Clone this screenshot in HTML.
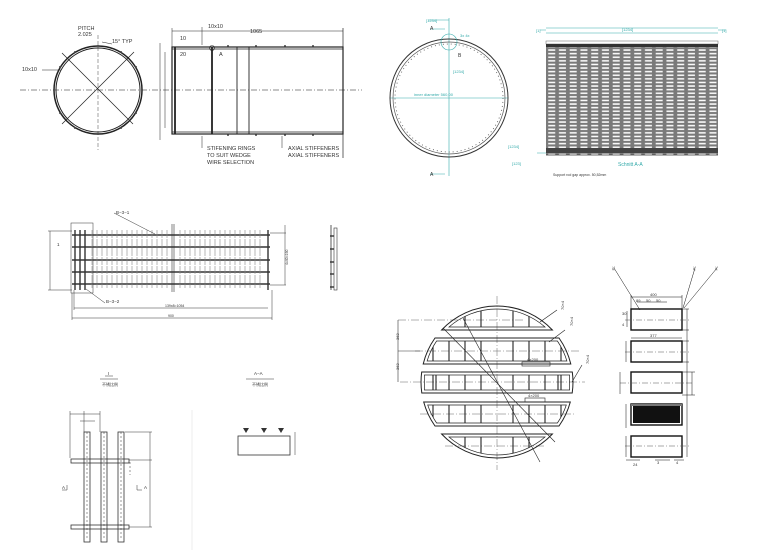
<!DOCTYPE html>
<html><head><meta charset="utf-8"><style>
html,body{margin:0;padding:0;background:#fff}
svg{display:block}
text{font-family:"Liberation Sans",sans-serif;fill:#333}
.t{fill:#3aa}
</style></head><body>
<svg width="770" height="553" viewBox="0 0 770 553" xmlns="http://www.w3.org/2000/svg">
<defs>
<pattern id="gr" x="546" y="41" width="10.75" height="3.6" patternUnits="userSpaceOnUse">
<rect width="10.75" height="3.6" fill="#7a7a7a"/>
<rect x="2.2" y="1.1" width="7" height="1.5" fill="#fff"/>
</pattern>
<clipPath id="ci">
<path d="M449 327 A73 73 0 0 1 545 327 Z"/>
<path d="M436.6 341 L557.4 341 A73 73 0 0 1 566.9 361 L427.1 361 A73 73 0 0 1 436.6 341 Z"/>
<rect x="424.4" y="375" width="145.2" height="15"/>
<path d="M427.7 405 L566.3 405 A73 73 0 0 1 557.4 423 L436.6 423 A73 73 0 0 1 427.7 405 Z"/>
<path d="M449 437 L545 437 A73 73 0 0 1 449 437 Z"/>
</clipPath>
</defs>

<!-- ===== Top-left drawing ===== -->
<g stroke="#222" fill="none">
<line x1="20" y1="90" x2="362" y2="90" stroke="#666" stroke-width="0.7" stroke-dasharray="6,2,1,2"/>
<line x1="98" y1="35" x2="98" y2="150" stroke="#666" stroke-width="0.6" stroke-dasharray="4,2"/>
<circle cx="98" cy="90" r="44" stroke-width="1.5"/>
<circle cx="98" cy="90" r="42" stroke-width="1"/>
<line x1="62" y1="53" x2="133" y2="124" stroke-width="0.7"/>
<line x1="62" y1="124" x2="134" y2="52" stroke-width="0.7"/>
<line x1="42" y1="70" x2="61" y2="70" stroke-width="0.5"/>
<line x1="102" y1="42" x2="112" y2="44" stroke-width="0.5"/>
<rect x="172" y="47" width="171" height="87" stroke-width="1.2"/>
<line x1="172" y1="49" x2="343" y2="49" stroke-width="0.8"/>
<line x1="172" y1="132" x2="343" y2="132" stroke-width="0.8"/>
<line x1="175" y1="47" x2="175" y2="134" stroke-width="1.8"/>
<line x1="212" y1="47" x2="212" y2="134" stroke-width="1.8"/>
<line x1="237" y1="47" x2="237" y2="134" stroke-width="0.9"/>
<line x1="249" y1="47" x2="249" y2="134" stroke-width="0.9"/>
<line x1="343" y1="28" x2="343" y2="158" stroke-width="0.7"/>
<line x1="172" y1="31" x2="343" y2="31" stroke-width="0.5"/>
<line x1="172" y1="28" x2="172" y2="47" stroke-width="0.5"/>
<line x1="160" y1="43" x2="160" y2="140" stroke-width="0.5"/>
<line x1="165" y1="52" x2="165" y2="128" stroke-width="0.5"/>
<line x1="202" y1="27" x2="202" y2="45" stroke-width="0.5"/>
<line x1="202" y1="136" x2="202" y2="148" stroke-width="0.5"/>
<line x1="282" y1="136" x2="282" y2="148" stroke-width="0.5"/>
<circle cx="212" cy="48" r="2.5" stroke-width="0.6"/>
</g>
<g fill="#444">
<circle cx="98" cy="46" r="1"/><circle cx="98" cy="134" r="1"/><circle cx="54" cy="90" r="1"/><circle cx="142" cy="90" r="1"/>
<circle cx="75" cy="52" r="1"/><circle cx="121" cy="52" r="1"/><circle cx="60" cy="67" r="1"/><circle cx="136" cy="67" r="1"/>
<circle cx="60" cy="113" r="1"/><circle cx="136" cy="113" r="1"/><circle cx="75" cy="128" r="1"/><circle cx="121" cy="128" r="1"/>
<circle cx="256" cy="46" r="1"/><circle cx="285" cy="46" r="1"/><circle cx="313" cy="46" r="1"/><circle cx="228" cy="46" r="1"/>
<circle cx="256" cy="135" r="1"/><circle cx="285" cy="135" r="1"/><circle cx="313" cy="135" r="1"/><circle cx="228" cy="135" r="1"/>
</g>
<g font-size="5.5">
<text x="78" y="30">PITCH</text><text x="78" y="36">2.025</text>
<text x="112" y="43">15° TYP</text>
<text x="22" y="71">10x10</text>
<text x="208" y="28">10x10</text><text x="250" y="33">1065</text>
<text x="180" y="40">10</text><text x="180" y="56">20</text>
<text x="219" y="56">A</text>
<text x="207" y="150">STIFENING RINGS</text><text x="207" y="157">TO SUIT WEDGE</text><text x="207" y="164">WIRE SELECTION</text>
<text x="288" y="150">AXIAL STIFFENERS</text><text x="288" y="157">AXIAL STIFFENERS</text>
</g>

<!-- ===== Top-right drawing ===== -->
<g fill="none">
<line x1="449" y1="18" x2="449" y2="176" stroke="#3aa" stroke-width="0.6"/>
<line x1="390" y1="98" x2="508" y2="98" stroke="#3aa" stroke-width="0.5"/>
<circle cx="449" cy="98" r="59" stroke="#333" stroke-width="1"/>
<circle cx="449" cy="98" r="56" stroke="#555" stroke-width="0.7"/>
<circle cx="449" cy="98" r="54" stroke="#666" stroke-width="0.9" stroke-dasharray="1,3"/>
<circle cx="449" cy="42" r="8" stroke="#3aa" stroke-width="0.6"/>
<line x1="428" y1="20" x2="449" y2="20" stroke="#3aa" stroke-width="0.5"/>
<line x1="430" y1="29" x2="445" y2="29" stroke="#3aa" stroke-width="0.5"/>
<line x1="430" y1="174" x2="445" y2="174" stroke="#3aa" stroke-width="0.5"/>
<line x1="546" y1="28" x2="718" y2="28" stroke="#3aa" stroke-width="0.5"/>
<line x1="546" y1="33" x2="718" y2="33" stroke="#3aa" stroke-width="0.5"/>
<line x1="540" y1="30" x2="546" y2="30" stroke="#3aa" stroke-width="0.5"/>
<line x1="718" y1="30" x2="726" y2="30" stroke="#3aa" stroke-width="0.5"/>
<line x1="537" y1="153" x2="546" y2="153" stroke="#3aa" stroke-width="0.5"/>
</g>
<rect x="546" y="41" width="172" height="3" fill="#fff" stroke="#666" stroke-width="0.5"/>
<rect x="546" y="44" width="172" height="111" fill="url(#gr)"/>
<rect x="546" y="44" width="172" height="3" fill="#333"/>
<rect x="546" y="148" width="172" height="5" fill="#444"/>
<line x1="546" y1="155" x2="718" y2="155" stroke="#333" stroke-width="0.8"/>
<g font-size="4" class="t">
<text x="426" y="22" class="t">[1234]</text><text x="460" y="37" class="t">3x 4x</text>
<text x="453" y="73" class="t">[1234]</text><text x="414" y="96" class="t">inner diameter 560,00</text>
<text x="622" y="31" class="t">[1234]</text><text x="508" y="148" class="t">[1234]</text><text x="512" y="165" class="t">[123]</text>
<text x="536" y="32" class="t">[1]</text><text x="722" y="32" class="t">[1]</text>
</g>
<text x="618" y="166" font-size="5" class="t">Schnitt A-A</text>
<text x="553" y="176" font-size="3.5">Support rod gap approx. 50,52mm</text>
<text x="458" y="57" font-size="5">B</text>
<text x="430" y="30" font-size="5">A</text><text x="430" y="176" font-size="5">A</text>

<!-- ===== Middle-left grate ===== -->
<g stroke="#333" fill="none">
<rect x="71" y="223" width="22" height="70" stroke-width="0.5"/>
<g stroke-width="1.6">
<line x1="72" y1="235" x2="270" y2="235"/><line x1="72" y1="247" x2="270" y2="247"/>
<line x1="72" y1="260" x2="270" y2="260"/><line x1="72" y1="272" x2="270" y2="272"/>
<line x1="72" y1="284" x2="270" y2="284"/>
</g>
<g stroke-width="1.4">
<line x1="75" y1="230" x2="75" y2="290"/><line x1="80" y1="230" x2="80" y2="290"/>
<line x1="85" y1="230" x2="85" y2="290"/><line x1="268" y1="230" x2="268" y2="290"/>
</g>
<g stroke="#888" stroke-width="0.6" stroke-dasharray="8,1">
<line x1="92" y1="230" x2="92" y2="288"/><line x1="97" y1="230" x2="97" y2="288"/><line x1="102" y1="230" x2="102" y2="288"/><line x1="107" y1="230" x2="107" y2="288"/><line x1="112" y1="230" x2="112" y2="288"/><line x1="117" y1="230" x2="117" y2="288"/><line x1="122" y1="230" x2="122" y2="288"/><line x1="127" y1="230" x2="127" y2="288"/><line x1="132" y1="230" x2="132" y2="288"/><line x1="137" y1="230" x2="137" y2="288"/><line x1="142" y1="230" x2="142" y2="288"/><line x1="147" y1="230" x2="147" y2="288"/><line x1="152" y1="230" x2="152" y2="288"/><line x1="157" y1="230" x2="157" y2="288"/><line x1="162" y1="230" x2="162" y2="288"/><line x1="167" y1="230" x2="167" y2="288"/><line x1="180" y1="230" x2="180" y2="288"/><line x1="185" y1="230" x2="185" y2="288"/><line x1="190" y1="230" x2="190" y2="288"/><line x1="195" y1="230" x2="195" y2="288"/><line x1="200" y1="230" x2="200" y2="288"/><line x1="205" y1="230" x2="205" y2="288"/><line x1="210" y1="230" x2="210" y2="288"/><line x1="215" y1="230" x2="215" y2="288"/><line x1="220" y1="230" x2="220" y2="288"/><line x1="225" y1="230" x2="225" y2="288"/><line x1="230" y1="230" x2="230" y2="288"/><line x1="235" y1="230" x2="235" y2="288"/><line x1="240" y1="230" x2="240" y2="288"/><line x1="245" y1="230" x2="245" y2="288"/><line x1="250" y1="230" x2="250" y2="288"/><line x1="255" y1="230" x2="255" y2="288"/><line x1="260" y1="230" x2="260" y2="288"/>
</g>
<line x1="172" y1="224" x2="172" y2="292" stroke-width="0.6"/><line x1="174" y1="224" x2="174" y2="292" stroke-width="0.6"/>
<g stroke-width="0.5">
<line x1="50" y1="231" x2="50" y2="290"/><line x1="48" y1="231" x2="72" y2="231"/><line x1="48" y1="290" x2="72" y2="290"/>
<line x1="74" y1="308" x2="268" y2="308"/><line x1="72" y1="318" x2="272" y2="318"/>
<line x1="72" y1="293" x2="72" y2="320"/><line x1="272" y1="290" x2="272" y2="320"/><line x1="74" y1="290" x2="74" y2="310"/>
<line x1="285" y1="225" x2="285" y2="285"/><line x1="270" y1="233" x2="286" y2="233"/><line x1="270" y1="285" x2="286" y2="285"/>
<line x1="114" y1="213" x2="155" y2="234"/><line x1="86" y1="289" x2="105" y2="303"/>
</g>
<rect x="334" y="228" width="3" height="62" stroke-width="0.6"/>
<g stroke-width="1.4"><line x1="330" y1="236" x2="334" y2="236"/><line x1="330" y1="249" x2="334" y2="249"/><line x1="330" y1="262" x2="334" y2="262"/><line x1="330" y1="274" x2="334" y2="274"/><line x1="330" y1="287" x2="334" y2="287"/></g>
<line x1="331" y1="225" x2="331" y2="290" stroke-width="0.8"/>
</g>
<g font-size="4.5">
<text x="116" y="214">B−3−1</text><text x="106" y="303">B−3−2</text>
<text x="165" y="307" font-size="3.5">139x8=1054</text><text x="168" y="317" font-size="3.5">900</text>
<text x="57" y="246">1</text><text x="278" y="265" font-size="3.5" transform="rotate(-90 283 260)">4x40=160</text>
</g>

<!-- ===== Bottom-left details ===== -->
<g stroke="#333" fill="none" stroke-width="0.5">
<line x1="100" y1="379" x2="118" y2="379"/><line x1="105" y1="376" x2="113" y2="376"/>
<line x1="246" y1="379" x2="274" y2="379"/>
<rect x="84" y="432" width="6" height="110" stroke-width="0.8"/>
<rect x="101" y="432" width="6" height="110" stroke-width="0.8"/>
<rect x="118" y="432" width="6" height="110" stroke-width="0.8"/>
<line x1="87" y1="432" x2="87" y2="540" stroke-dasharray="2,2"/><line x1="104" y1="432" x2="104" y2="540" stroke-dasharray="2,2"/><line x1="121" y1="432" x2="121" y2="540" stroke-dasharray="2,2"/>
<rect x="71" y="459" width="58" height="4" stroke-width="0.8"/>
<rect x="71" y="525" width="58" height="4" stroke-width="0.8"/>
<line x1="70" y1="414" x2="100" y2="414"/><line x1="70" y1="411" x2="70" y2="458"/><line x1="100" y1="411" x2="100" y2="432"/><line x1="84" y1="411" x2="84" y2="432"/>
<line x1="80" y1="421" x2="95" y2="421"/>
<line x1="125" y1="432" x2="152" y2="432"/><line x1="150" y1="432" x2="150" y2="527"/><line x1="129" y1="527" x2="152" y2="527"/>
<line x1="129" y1="460" x2="152" y2="460"/>
<line x1="130" y1="462" x2="130" y2="475" stroke-dasharray="2,2"/>
<line x1="62" y1="490" x2="67" y2="490"/><line x1="67" y1="485" x2="67" y2="490"/>
<line x1="137" y1="490" x2="142" y2="490"/><line x1="137" y1="485" x2="137" y2="490"/>
<rect x="238" y="436" width="52" height="19" stroke-width="0.8"/>
<line x1="295" y1="432" x2="295" y2="455"/>
<line x1="192" y1="410" x2="192" y2="550" stroke="#ddd"/>
</g>
<g fill="#333">
<path d="M246 433 l-3 -5 h6 z"/><path d="M264 433 l-3 -5 h6 z"/><path d="M281 433 l-3 -5 h6 z"/>
</g>
<g font-size="4.5">
<text x="108" y="375">I</text><text x="102" y="386" font-size="4">不锈比例</text>
<text x="254" y="375">A−A</text><text x="252" y="386" font-size="4">不锈比例</text>
<text x="62" y="489">A</text><text x="144" y="489">A</text>
</g>

<!-- ===== Bottom-right circle grid ===== -->
<g stroke="#666" stroke-width="0.5" stroke-dasharray="8,2,1,2" fill="none">
<line x1="497" y1="296" x2="497" y2="470"/>
<line x1="398" y1="320" x2="525" y2="320"/><line x1="415" y1="351" x2="580" y2="351"/><line x1="400" y1="382" x2="585" y2="382"/><line x1="420" y1="414" x2="575" y2="414"/><line x1="445" y1="446" x2="545" y2="446"/>
</g>
<g stroke="#333" stroke-width="0.6" fill="none">
<line x1="398" y1="320" x2="398" y2="382"/>
<line x1="398" y1="351" x2="420" y2="351"/>
</g>
<g stroke="#222" fill="none" stroke-width="1">
<path d="M441.6 330 A76 76 0 0 1 552.4 330 Z"/>
<path d="M435 338 L559 338 A76 76 0 0 1 570.8 364 L423.2 364 A76 76 0 0 1 435 338 Z"/>
<path d="M421.7 372 L572.3 372 A76 76 0 0 1 572.2 393 L421.8 393 A76 76 0 0 1 421.7 372 Z"/>
<path d="M423.7 402 L570.3 402 A76 76 0 0 1 559 426 L435 426 A76 76 0 0 1 423.7 402 Z"/>
<path d="M441.6 434 L552.4 434 A76 76 0 0 1 441.6 434 Z"/>
<g stroke-width="0.7">
<path d="M449 327 A73 73 0 0 1 545 327 Z"/>
<path d="M436.6 341 L557.4 341 A73 73 0 0 1 566.9 361 L427.1 361 A73 73 0 0 1 436.6 341 Z"/>
<rect x="424.4" y="375" width="145.2" height="15"/>
<path d="M427.7 405 L566.3 405 A73 73 0 0 1 557.4 423 L436.6 423 A73 73 0 0 1 427.7 405 Z"/>
<path d="M449 437 L545 437 A73 73 0 0 1 449 437 Z"/>
</g>
<g clip-path="url(#ci)" stroke-width="1.1">
<line x1="433" y1="300" x2="433" y2="465"/><line x1="449" y1="300" x2="449" y2="465"/><line x1="465" y1="300" x2="465" y2="465"/><line x1="481" y1="300" x2="481" y2="465"/><line x1="513" y1="300" x2="513" y2="465"/><line x1="529" y1="300" x2="529" y2="465"/><line x1="545" y1="300" x2="545" y2="465"/><line x1="561" y1="300" x2="561" y2="465"/>
<line x1="436" y1="373" x2="436" y2="392"/><line x1="558" y1="373" x2="558" y2="392"/>
</g>
<g stroke-width="0.6">
<line x1="443" y1="328" x2="555" y2="442"/>
<line x1="463" y1="318" x2="540" y2="462"/>
<line x1="557" y1="310" x2="540" y2="322"/><line x1="565" y1="330" x2="549" y2="342"/><line x1="582" y1="365" x2="572" y2="382"/>
<rect x="522" y="362" width="28" height="4"/><rect x="525" y="398" width="20" height="4"/>
</g>
</g>
<g font-size="4">
<text x="527" y="361">4×200</text><text x="528" y="397">4×200</text>
<text x="555" y="309" transform="rotate(-90 560 305)">70×4</text>
<text x="566" y="325" transform="rotate(-90 570 322)">70×4</text>
<text x="583" y="362" transform="rotate(-90 587 360)">70×4</text>
<text x="393" y="338" transform="rotate(-90 397 336)">362</text>
<text x="393" y="368" transform="rotate(-90 397 366)">362</text>
</g>

<!-- ===== Bottom-right boxes ===== -->
<g stroke="#111" fill="none">
<rect x="631" y="309" width="51" height="21" stroke-width="1.4"/>
<rect x="631" y="341" width="51" height="21" stroke-width="1.4"/>
<rect x="631" y="372" width="51" height="21" stroke-width="1.4"/>
<rect x="631" y="404" width="51" height="21" stroke-width="1.4"/>
<rect x="631" y="436" width="51" height="21" stroke-width="1.4"/>
<g stroke="#555" stroke-width="0.5" stroke-dasharray="6,2,1,2">
<line x1="625" y1="320" x2="690" y2="320"/><line x1="625" y1="352" x2="690" y2="352"/><line x1="620" y1="383" x2="692" y2="383"/><line x1="625" y1="446" x2="690" y2="446"/>
</g>
<g stroke-width="0.5">
<line x1="614" y1="268" x2="640" y2="310"/><line x1="695" y1="268" x2="683" y2="308"/><line x1="717" y1="268" x2="684" y2="308"/>
<line x1="631" y1="297" x2="682" y2="297"/><line x1="631" y1="295" x2="631" y2="309"/><line x1="682" y1="295" x2="682" y2="309"/>
<line x1="637" y1="302" x2="667" y2="302"/>
<line x1="631" y1="338" x2="682" y2="338"/>
<line x1="687" y1="309" x2="687" y2="457"/><line x1="682" y1="309" x2="689" y2="309"/><line x1="682" y1="330" x2="689" y2="330"/>
<line x1="682" y1="341" x2="689" y2="341"/><line x1="682" y1="362" x2="689" y2="362"/><line x1="682" y1="372" x2="695" y2="372"/><line x1="692" y1="372" x2="692" y2="395"/><line x1="682" y1="395" x2="695" y2="395"/>
<line x1="626" y1="341" x2="626" y2="362"/><line x1="620" y1="372" x2="620" y2="394"/><line x1="626" y1="404" x2="626" y2="428"/><line x1="626" y1="436" x2="626" y2="457"/>
<line x1="626" y1="460" x2="640" y2="460"/><line x1="655" y1="460" x2="670" y2="460"/><line x1="674" y1="460" x2="684" y2="460"/>
<line x1="627" y1="311" x2="627" y2="327"/>
</g>
</g>
<rect x="633" y="406" width="47" height="17" fill="#111"/>
<rect x="631" y="404" width="51" height="2" fill="#777"/>
<g font-size="4">
<text x="650" y="296">400</text><text x="636" y="302">89</text><text x="646" y="302">50</text><text x="656" y="302">50</text>
<text x="650" y="337">377</text><text x="622" y="315">30</text><text x="622" y="326">4</text>
<text x="633" y="466">24</text><text x="657" y="464">3</text><text x="676" y="464">4</text>
<text x="612" y="270" transform="rotate(90 614 268)">7#</text>
<text x="693" y="270" transform="rotate(90 695 268)">7#</text>
<text x="715" y="270" transform="rotate(90 717 268)">7#</text>
</g>
</svg>
</body></html>
